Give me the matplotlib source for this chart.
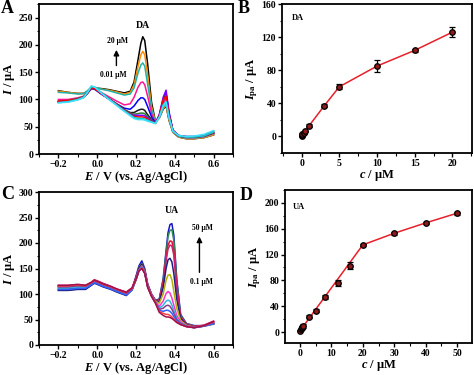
import matplotlib
matplotlib.use("Agg")
import matplotlib.pyplot as plt
from matplotlib.ticker import MultipleLocator

plt.rcParams['font.family'] = ['Liberation Serif', 'DejaVu Serif']
plt.rcParams['font.weight'] = 'bold'
plt.rcParams['mathtext.fontset'] = 'custom'
plt.rcParams['mathtext.rm'] = 'Liberation Serif:bold'
plt.rcParams['mathtext.it'] = 'Liberation Serif:italic:bold'
plt.rcParams['mathtext.bf'] = 'Liberation Serif:bold'

# ---------------- Panel A: DA voltammograms ----------------
xA = [-0.2, -0.15, -0.1, -0.07, -0.05, -0.03, -0.01, 0.02, 0.06, 0.1, 0.14, 0.17, 0.19, 0.21,
      0.225, 0.235, 0.245, 0.26, 0.28, 0.3, 0.32, 0.34, 0.355, 0.37, 0.39, 0.42, 0.46, 0.5, 0.55, 0.6]
A_colors = ['#000000', '#FF8C00', '#20B2AA', '#FF1493', '#0000FF', '#1a1a1a',
            '#2E7D2E', '#7B00FF', '#FF0000', '#00CED1', '#40E0FF']
A_curves = [
    [116,113,111,111,115,122,121,120,118,115,112,115,132,172,203,215,208,165,95,60,66,82,88,62,40,31,28,28,30,35],
    [115,113,111,111,115,122,121,119,117,114,110,113,127,160,182,188,182,145,87,59,66,83,90,63,40,31,28,28,30,35],
    [113,112,110,111,116,123,122,119,116,112,108,110,121,148,163,167,161,128,82,58,66,85,95,66,41,32,29,29,31,37],
    [100,100,103,106,112,121,119,113,105,97,90,92,104,122,131,132,127,106,74,57,68,92,103,70,42,33,30,30,32,38],
    [95,96,100,104,111,120,118,110,101,92,84,82,88,98,103,103,100,87,68,57,70,98,112,75,43,33,31,31,33,39],
    [96,97,101,104,112,121,119,111,101,91,81,76,76,80,82,82,80,72,63,57,70,100,110,74,43,33,31,31,33,39],
    [97,98,102,105,113,122,120,112,102,92,81,75,73,74,75,75,74,68,62,57,70,97,108,73,43,34,32,32,34,42],
    [96,97,101,104,112,121,119,111,101,91,80,74,71,71,71,71,70,66,61,57,72,104,117,78,44,34,32,32,34,39],
    [97,98,101,104,112,121,119,111,101,91,80,73,69,68,68,68,67,64,60,56,70,99,106,72,43,33,31,31,33,39],
    [94,96,100,104,113,124,122,113,101,90,79,72,67,65,65,65,64,62,59,56,68,90,96,68,42,33,31,31,33,40],
    [94,95,99,103,113,125,122,112,100,89,78,70,65,63,63,63,62,60,58,56,67,88,95,67,42,34,32,33,36,43],
]

# ---------------- Panel C: UA voltammograms ----------------
xC = [-0.2, -0.15, -0.1, -0.06, -0.03, -0.015, 0.0, 0.03, 0.07, 0.1, 0.15, 0.18, 0.2, 0.215, 0.23,
      0.245, 0.26, 0.28, 0.3, 0.32, 0.34, 0.355, 0.365, 0.375, 0.385, 0.395, 0.41, 0.43, 0.46, 0.5, 0.55, 0.6]
C_colors = ['#1414C8', '#2E8B57', '#E0103A', '#D0206F', '#202080', '#B5B000',
            '#FF33CC', '#33B5E5', '#8B3A8B', '#3060FF', '#FF4040', '#A0104A']
C_curves = [
    [108,108,110,110,118,122,120,115,110,105,98,110,135,155,165,150,120,100,88,90,130,185,220,236,238,215,130,60,42,38,38,42],
    [110,110,112,112,119,123,121,116,111,106,99,110,132,152,160,147,118,99,87,89,127,180,212,225,226,205,125,58,42,37,38,42],
    [116,116,118,116,122,127,125,120,114,109,103,112,132,150,158,146,118,99,87,88,123,170,196,204,203,185,115,56,41,36,38,44],
    [117,117,118,117,123,128,126,121,115,110,104,112,131,149,157,145,117,99,87,87,120,165,188,196,194,176,110,55,41,36,39,47],
    [107,107,109,109,117,121,119,114,109,104,97,108,130,150,158,146,117,98,86,85,112,150,167,170,163,140,90,52,40,35,37,41],
    [113,113,115,114,121,125,123,118,113,108,101,110,129,147,155,144,116,98,86,82,100,127,137,138,128,105,72,48,39,35,37,42],
    [115,115,117,116,122,126,124,119,114,109,102,111,129,147,154,143,116,98,85,76,86,101,105,102,92,78,58,45,38,35,38,44],
    [112,112,114,113,120,124,122,117,112,107,100,109,128,146,153,142,115,97,84,72,78,86,88,86,78,68,52,43,37,34,37,43],
    [114,114,116,115,121,125,123,118,113,108,101,110,128,146,152,142,115,97,84,70,72,77,78,76,70,62,50,42,37,34,37,43],
    [109,109,111,111,118,122,120,115,110,105,98,108,128,146,152,141,114,96,83,68,66,68,68,66,62,56,47,41,36,34,37,42],
    [116,116,118,116,122,126,124,119,114,109,102,111,128,145,151,141,114,96,83,66,62,60,60,58,55,51,45,40,36,34,38,45],
    [117,117,119,117,123,127,125,120,115,110,103,112,129,145,150,140,113,95,82,64,58,55,55,54,52,49,44,40,36,34,38,46],
]

# ---------------- Panel B: DA calibration ----------------
B_conc = [0.01, 0.05, 0.1, 0.3, 0.5, 1, 3, 5, 10, 15, 20]
B_ipa = [0.8, 1.5, 2.5, 4, 6, 13, 37, 60, 85, 104, 126]
B_err = [0.8, 0.8, 0.8, 1, 1, 2, 2, 3, 7, 2, 6]

# ---------------- Panel D: UA calibration ----------------
D_conc = [0.1, 0.3, 0.5, 0.7, 1, 3, 5, 8, 12, 16, 20, 30, 40, 50]
D_ipa = [2, 4, 6, 8, 10, 24, 33, 54, 76, 103, 135, 153, 169, 184]
D_err = [1, 1, 1, 1, 3, 2, 2, 3, 4, 6, 2, 2, 2, 2]
D_fit_c = [0, 20, 30, 40, 50]
D_fit_i = [2, 135, 153, 169, 184]

W, H = 474, 375
fig = plt.figure(figsize=(W / 100, H / 100), dpi=100)

def rect(l, t, r, b):
    return [l / W, 1 - b / H, (r - l) / W, (b - t) / H]

axA = fig.add_axes(rect(39, 4, 233, 154))
axB = fig.add_axes(rect(282, 4, 472, 153))
axC = fig.add_axes(rect(39, 192, 233, 345))
axD = fig.add_axes(rect(285, 190, 472, 343))

tick_fs = 7
lab_fs = 9

def style(ax):
    for s in ax.spines.values():
        s.set_linewidth(1.3)
    ax.tick_params(which='major', direction='out', length=3, width=1, labelsize=tick_fs, pad=1.2)
    ax.tick_params(which='minor', direction='out', length=1.8, width=0.8)
    for lab in ax.get_xticklabels() + ax.get_yticklabels():
        lab.set_fontweight('bold')

for c, ys in zip(A_colors, A_curves):
    axA.plot(xA, ys, color=c, lw=1.1)
axA.set_xlim(-0.3, 0.7)
axA.set_ylim(0, 275)
axA.xaxis.set_minor_locator(MultipleLocator(0.1))
axA.yaxis.set_major_locator(MultipleLocator(50))
axA.yaxis.set_minor_locator(MultipleLocator(25))
axA.set_xticks([-0.2, 0.0, 0.2, 0.4, 0.6])
axA.set_xlabel(r'$\mathit{E}$ / V (vs. Ag/AgCl)', fontsize=lab_fs, fontweight='bold', labelpad=0)
axA.set_ylabel(r'$\mathit{I}$ / μA', fontsize=lab_fs, fontweight='bold', labelpad=1)
axA.text(0.237, 235, 'DA', fontsize=7, fontweight='bold', ha='center', va='center')
axA.text(0.104, 207, '20 μM', fontsize=5.5, fontweight='bold', ha='center', va='center')
axA.text(0.085, 144, '0.01 μM', fontsize=5.5, fontweight='bold', ha='center', va='center')
axA.annotate('', xy=(0.099, 196), xytext=(0.099, 157),
             arrowprops=dict(arrowstyle='-|>', color='black', lw=1, mutation_scale=8))
style(axA)

for c, ys in zip(C_colors, C_curves):
    axC.plot(xC, ys, color=c, lw=1.1)
axC.set_xlim(-0.3, 0.7)
axC.set_ylim(0, 300)
axC.set_xticks([-0.2, 0.0, 0.2, 0.4, 0.6])
axC.xaxis.set_minor_locator(MultipleLocator(0.1))
axC.yaxis.set_major_locator(MultipleLocator(50))
axC.yaxis.set_minor_locator(MultipleLocator(25))
axC.set_xlabel(r'$\mathit{E}$ / V (vs. Ag/AgCl)', fontsize=lab_fs, fontweight='bold', labelpad=0)
axC.set_ylabel(r'$\mathit{I}$ / μA', fontsize=lab_fs, fontweight='bold', labelpad=1)
axC.text(0.386, 263, 'UA', fontsize=7, fontweight='bold', ha='center', va='center')
axC.text(0.54, 229, '50 μM', fontsize=5.5, fontweight='bold', ha='center', va='center')
axC.text(0.535, 123, '0.1 μM', fontsize=5.5, fontweight='bold', ha='center', va='center')
axC.annotate('', xy=(0.527, 218), xytext=(0.527, 137),
             arrowprops=dict(arrowstyle='-|>', color='black', lw=1, mutation_scale=8))
style(axC)

axB.plot(B_conc, B_ipa, color='#E8202A', lw=1.1, zorder=2)
axB.errorbar(B_conc, B_ipa, yerr=B_err, fmt='o', ms=4, mfc='#8B1A1A', mec='black', mew=0.9,
             ecolor='black', elinewidth=0.9, capsize=2, capthick=0.9, zorder=3)
axB.set_xlim(-2.6, 22.6)
axB.set_ylim(-20, 160)
axB.xaxis.set_major_locator(MultipleLocator(5))
axB.xaxis.set_minor_locator(MultipleLocator(2.5))
axB.yaxis.set_major_locator(MultipleLocator(40))
axB.yaxis.set_minor_locator(MultipleLocator(20))
axB.set_xlabel(r'$\mathit{c}$ / μM', fontsize=lab_fs, fontweight='bold', labelpad=0)
axB.set_ylabel(r'$\mathit{I}_{\mathrm{pa}}$ / μA', fontsize=lab_fs, fontweight='bold', labelpad=1)
axB.text(-1.3, 143, 'DA', fontsize=6, fontweight='bold', ha='left', va='center')
style(axB)

axD.plot(D_fit_c, D_fit_i, color='#E8202A', lw=1.1, zorder=2)
axD.errorbar(D_conc, D_ipa, yerr=D_err, fmt='o', ms=4, mfc='#8B1A1A', mec='black', mew=0.9,
             ecolor='black', elinewidth=0.9, capsize=2, capthick=0.9, zorder=3)
axD.set_xlim(-4.8, 54.8)
axD.set_ylim(-17, 220)
axD.xaxis.set_major_locator(MultipleLocator(10))
axD.xaxis.set_minor_locator(MultipleLocator(5))
axD.yaxis.set_major_locator(MultipleLocator(40))
axD.yaxis.set_minor_locator(MultipleLocator(20))
axD.set_xlabel(r'$\mathit{c}$ / μM', fontsize=lab_fs, fontweight='bold', labelpad=0)
axD.set_ylabel(r'$\mathit{I}_{\mathrm{pa}}$ / μA', fontsize=lab_fs, fontweight='bold', labelpad=1)
axD.text(-2.3, 194, 'UA', fontsize=6, fontweight='bold', ha='left', va='center')
style(axD)

for lbl, (px, py) in zip('ABCD', [(1, 0), (238, 0), (1, 186), (240, 187)]):
    fig.text(px / W, 1 - py / H, lbl, fontsize=13, fontweight='bold', ha='left', va='top')

fig.savefig('out.png', dpi=100)
